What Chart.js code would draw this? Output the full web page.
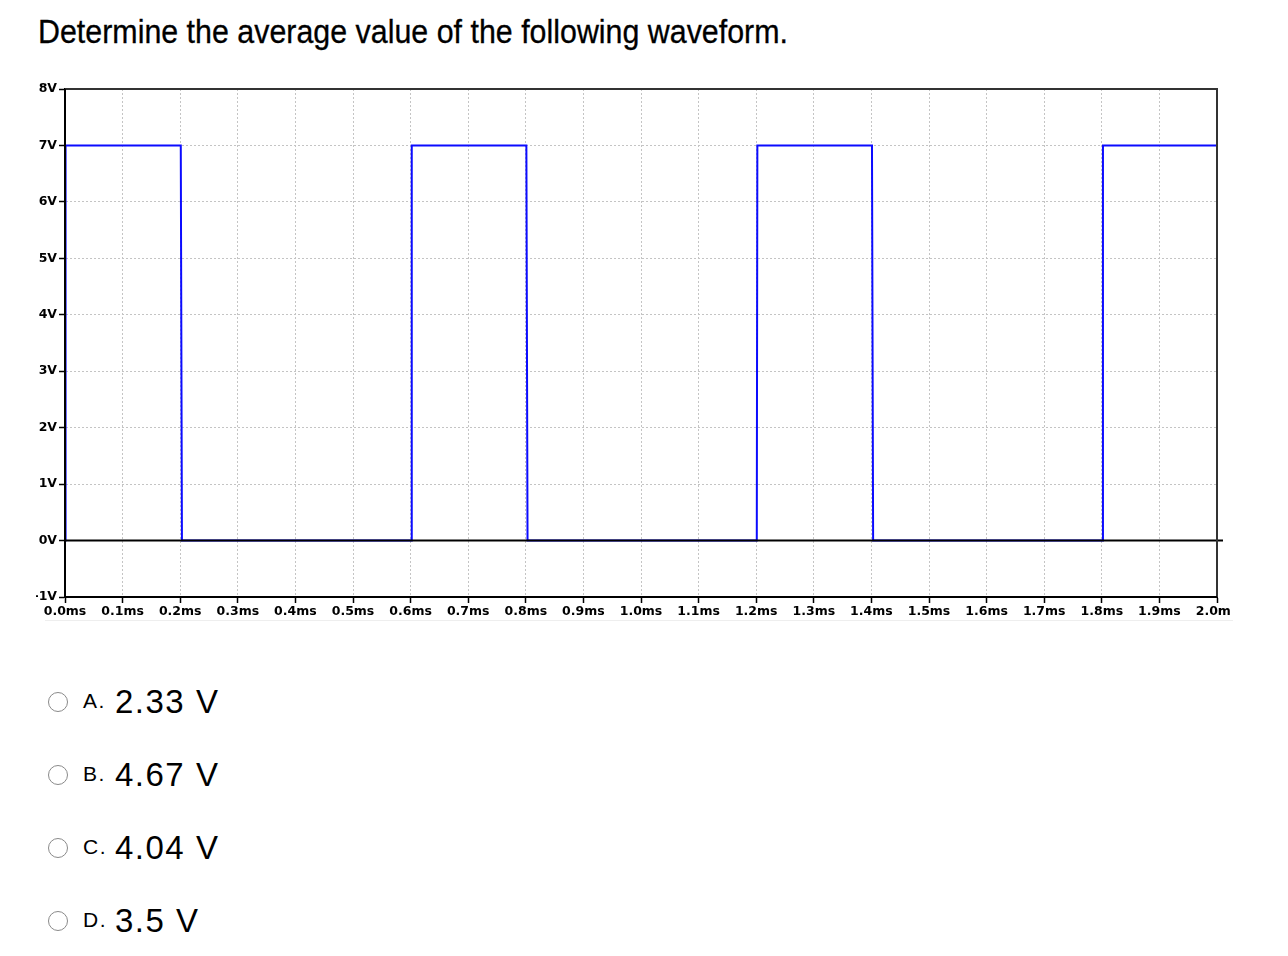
<!DOCTYPE html>
<html>
<head>
<meta charset="utf-8">
<script src="https://cdn.jsdelivr.net/npm/chart.js@4.4.1/dist/chart.umd.min.js"></script>
<style>
  html, body { margin:0; padding:0; background:#fff; width:1288px; height:956px; overflow:hidden; }
  #title { position:absolute; left:38px; top:16px; font-family:"Liberation Sans", Arial, sans-serif; font-size:32.5px; line-height:32.5px; color:#000; white-space:nowrap; transform-origin:0 0; -webkit-text-stroke:0.3px #000; }
  #clip { position:absolute; left:36px; top:70px; width:1195px; height:560px; overflow:hidden; }
  #inner { position:absolute; left:-36px; top:0; width:1288px; height:560px; }
  #rule { position:absolute; left:45px; top:620px; width:1188px; height:1px; background:#eeeeee; }
  .circ { position:absolute; width:18px; height:18px; border:1.8px solid #8a8a8a; border-radius:50%; }
  .lab { position:absolute; font-family:"Liberation Sans", Arial, sans-serif; font-size:21px; line-height:21px; letter-spacing:1.5px; color:#000; white-space:nowrap; }
  .val { position:absolute; font-family:"Liberation Sans", Arial, sans-serif; font-size:33px; line-height:33px; letter-spacing:1.5px; color:#000; white-space:nowrap; }
</style>
</head>
<body>
<div id="title">Determine the average value of the following waveform.</div>
<div id="clip"><div id="inner"><canvas id="c"></canvas></div></div>
<div id="rule"></div>
<div id="opts"></div>
<script>
// ---- data ----
const timeMs = [0.000, 0.001, 0.201, 0.203, 0.601, 0.602, 0.801, 0.803, 1.201, 1.202, 1.401, 1.403, 1.801, 1.802, 2.000];
const voltV  = [0, 7, 7, 0, 0, 7, 7, 0, 0, 7, 7, 0, 0, 7, 7];
const xMin = 0, xMax = 2.0, xStep = 0.1;
const yMin = -1, yMax = 8, yStep = 1;
const optionLetters = ["A.", "B.", "C.", "D."];
const optionValues = ["2.33 V", "4.67 V", "4.04 V", "3.5 V"];

// ---- title scaling ----
(function(){
  const t = document.getElementById('title');
  const w = t.getBoundingClientRect().width;
  t.style.transform = 'scaleX(' + (750 / w) + ')';
})();

// ---- options ----
(function(){
  const host = document.getElementById('opts');
  optionLetters.forEach((L, i) => {
    const cy = 703 + i * 73;
    const c = document.createElement('div'); c.className = 'circ';
    c.style.left = '48px'; c.style.top = (cy - 10.8) + 'px'; host.appendChild(c);
    const l = document.createElement('div'); l.className = 'lab'; l.textContent = L;
    l.style.left = '83px'; l.style.top = (cy + 5 - 0.8465 * 21) + 'px'; host.appendChild(l);
    const v = document.createElement('div'); v.className = 'val'; v.textContent = optionValues[i];
    v.style.left = '115px'; v.style.top = (cy + 10 - 0.8465 * 33) + 'px'; host.appendChild(v);
  });
})();

// ---- chart ----
const framePlugin = {
  id: 'frame',
  afterDatasetsDraw(chart) {
    const {ctx, chartArea: a, scales: {x, y}} = chart;
    ctx.save();
    const y0 = y.getPixelForValue(0);
    ctx.strokeStyle = '#000'; ctx.lineWidth = 2;
    ctx.beginPath(); ctx.moveTo(a.left, y0); ctx.lineTo(a.right + 6, y0); ctx.stroke();
    ctx.strokeStyle = '#333'; ctx.lineWidth = 2;
    ctx.beginPath();
    ctx.moveTo(a.left, a.top); ctx.lineTo(a.right, a.top); ctx.lineTo(a.right, a.bottom);
    ctx.stroke();
    ctx.strokeStyle = '#000';
    ctx.beginPath();
    ctx.moveTo(a.left, a.top); ctx.lineTo(a.left, a.bottom); ctx.lineTo(a.right, a.bottom);
    ctx.stroke();
    ctx.restore();
  }
};

const tickFont = { family: "'DejaVu Sans', Verdana, sans-serif", size: 12.5, weight: 'bold' };

new Chart(document.getElementById('c'), {
  type: 'line',
  data: {
    datasets: [{
      data: timeMs.map((t, i) => ({ x: t, y: voltV[i] })),
      borderColor: '#0b0bff',
      borderWidth: 2,
      pointRadius: 0,
      tension: 0,
      fill: false
    }]
  },
  options: {
    responsive: true,
    maintainAspectRatio: false,
    animation: false,
    events: [],
    layout: { padding: { left: 0, top: 19, right: 71, bottom: 0 } },
    plugins: { legend: { display: false }, tooltip: { enabled: false }, title: { display: false } },
    scales: {
      x: {
        type: 'linear', min: xMin, max: xMax,
        afterFit(s) { s.height = 33; },
        ticks: {
          stepSize: xStep, autoSkip: false, maxRotation: 0, padding: 1,
          color: '#000', font: tickFont,
          callback: v => Number(v).toFixed(1) + 'ms'
        },
        grid: { color: '#c4c4c4', lineWidth: 1, tickLength: 6, tickColor: '#000', tickWidth: 1.5, tickBorderDash: [] },
        border: { display: true, color: '#000', width: 2, dash: [2, 2] }
      },
      y: {
        type: 'linear', min: yMin, max: yMax,
        afterFit(s) { s.width = 65; },
        ticks: {
          stepSize: yStep, autoSkip: false, padding: 2,
          color: '#000', font: tickFont,
          callback: v => Math.round(v) + 'V'
        },
        grid: { color: '#c4c4c4', lineWidth: 1, tickLength: 6, tickColor: '#000', tickWidth: 1.5, tickBorderDash: [] },
        border: { display: true, color: '#000', width: 2, dash: [2, 2] }
      }
    }
  },
  plugins: [framePlugin]
});
</script>
</body>
</html>
